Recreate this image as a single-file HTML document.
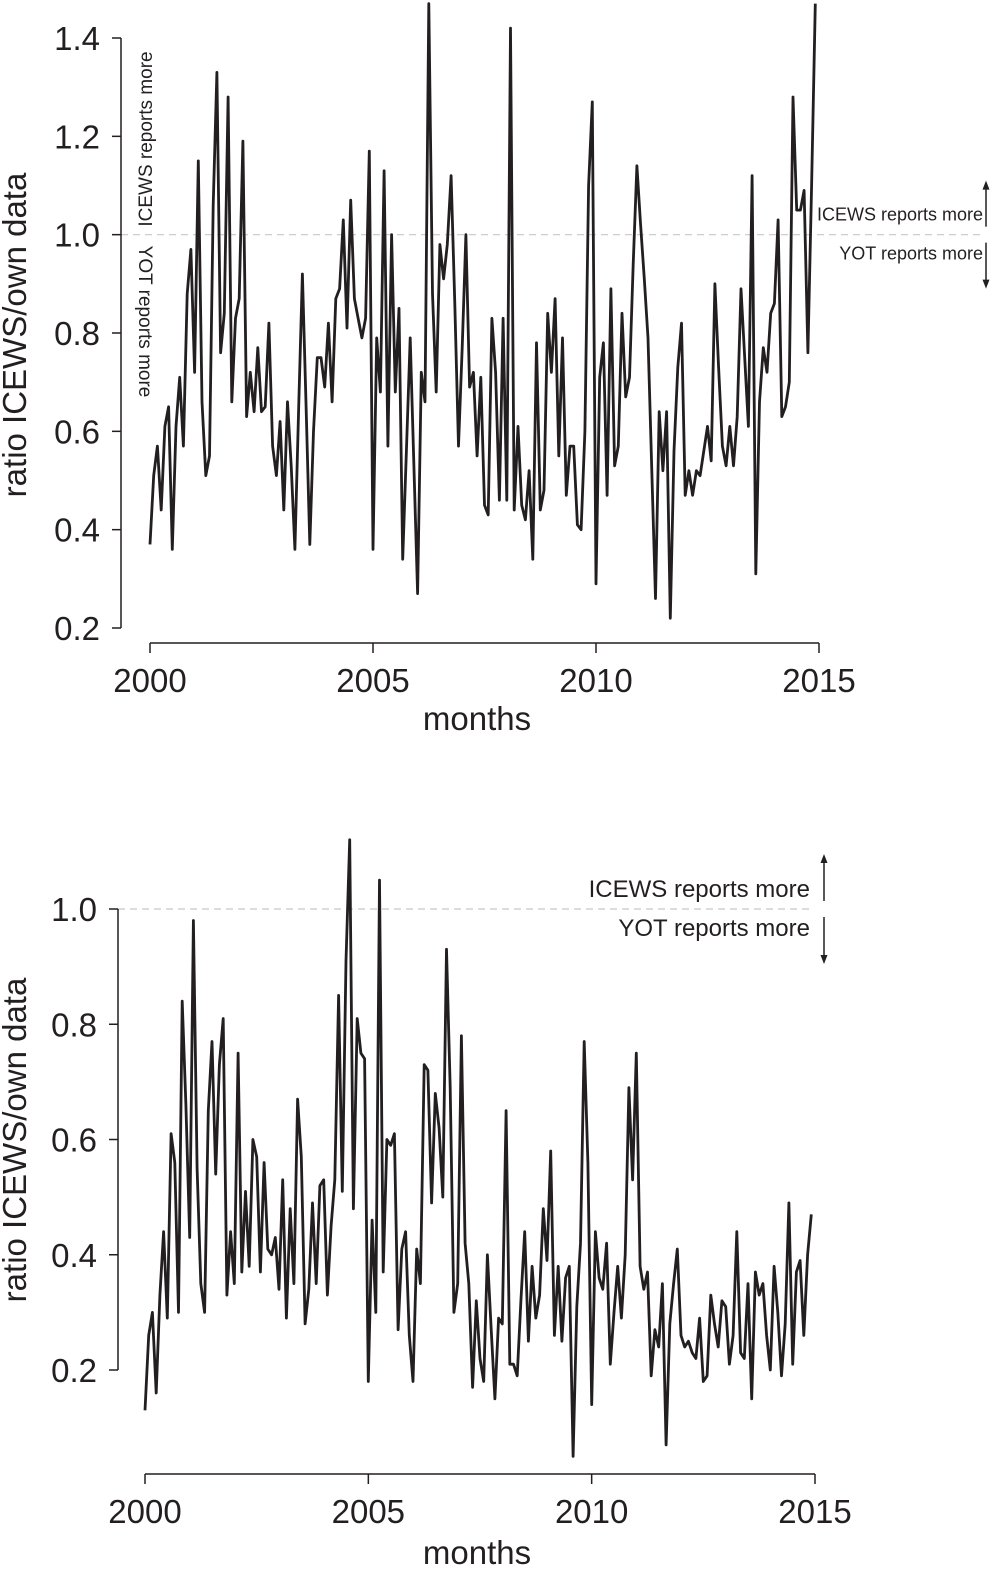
<!DOCTYPE html>
<html><head><meta charset="utf-8"><style>
html,body{margin:0;padding:0;background:#fff;}
svg{display:block;font-family:"Liberation Sans",Arial,sans-serif;}
</style></head><body>
<svg id="chart" width="994" height="1573" viewBox="0 0 994 1573" xmlns="http://www.w3.org/2000/svg">
<g id="top"></g>
<g id="bottom"></g>
</svg>
<script>
const xTickLabels = ["2000","2005","2010","2015"];
const xTickYears = [2000,2005,2010,2015];
const topYTicks = [0.2,0.4,0.6,0.8,1.0,1.2,1.4];
const bottomYTicks = [0.2,0.4,0.6,0.8,1.0];
const topValues = [0.37,0.51,0.57,0.44,0.61,0.65,0.36,0.61,0.71,0.57,0.88,0.97,0.72,1.15,0.66,0.51,0.55,1.06,1.33,0.76,0.84,1.28,0.66,0.83,0.87,1.19,0.63,0.72,0.64,0.77,0.64,0.65,0.82,0.57,0.51,0.62,0.44,0.66,0.53,0.36,0.65,0.92,0.65,0.37,0.60,0.75,
0.75,0.69,0.82,0.66,0.87,0.89,1.03,0.81,1.07,0.87,0.83,0.79,0.83,1.17,0.36,0.79,0.68,1.13,0.57,1.0,0.68,0.85,0.34,0.56,0.79,0.53,0.27,0.72,0.66,1.47,0.88,0.68,0.98,0.91,0.98,1.12,0.86,0.57,0.77,1.0,0.69,0.72,0.55,0.71,0.45,
0.43,0.83,0.72,0.46,0.83,0.46,1.42,0.44,0.61,0.45,0.42,0.52,0.34,0.78,0.44,0.48,0.84,0.72,0.87,0.55,0.79,0.47,0.57,0.57,0.41,0.40,0.6,1.10,1.27,0.29,0.71,0.78,0.47,0.89,0.53,0.57,0.84,0.67,0.71,0.94,1.14,1.02,0.91,0.79,0.52,0.26,
0.64,0.52,0.64,0.22,0.56,0.73,0.82,0.47,0.52,0.47,0.52,0.51,0.56,0.61,0.54,0.90,0.73,0.57,0.53,0.61,0.53,0.63,0.89,0.75,0.61,1.12,0.31,0.66,0.77,0.72,0.84,0.86,1.03,0.63,0.65,0.70,1.28,1.05,1.05,1.09,0.76,1.10,1.47];
const bottomValues = [0.13,0.26,0.30,0.16,0.33,0.44,0.29,0.61,0.56,0.30,0.84,0.66,0.43,0.98,0.55,0.35,0.30,0.65,0.77,0.54,0.73,0.81,0.33,0.44,0.35,0.75,0.37,0.51,0.38,0.60,0.57,0.37,0.56,0.41,0.40,0.43,0.34,0.53,0.29,0.48,0.35,0.67,0.57,0.28,0.34,0.49,0.35,
0.52,0.53,0.33,0.45,0.53,0.85,0.51,0.91,1.12,0.48,0.81,0.75,0.74,0.18,0.46,0.30,1.05,0.37,0.60,0.59,0.61,0.27,0.41,0.44,0.26,0.18,0.41,0.35,0.73,0.72,0.49,0.68,0.62,0.50,0.93,0.69,0.30,0.35,0.78,0.42,0.35,0.17,0.32,
0.22,0.18,0.40,0.27,0.15,0.29,0.28,0.65,0.21,0.21,0.19,0.32,0.44,0.25,0.38,0.29,0.33,0.48,0.39,0.58,0.26,0.38,0.25,0.36,0.38,0.05,0.31,0.42,0.77,0.56,0.14,0.44,0.36,0.34,0.42,0.21,0.30,0.38,0.29,0.40,0.69,0.53,0.75,0.38,0.34,0.37,
0.19,0.27,0.24,0.35,0.07,0.28,0.35,0.41,0.26,0.24,0.25,0.23,0.22,0.29,0.18,0.19,0.33,0.28,0.24,0.32,0.31,0.21,0.26,0.44,0.23,0.22,0.35,0.15,0.37,0.33,0.35,0.26,0.20,0.38,0.30,0.19,0.28,0.49,0.21,0.37,0.39,0.26,0.40,0.47];

const NS="http://www.w3.org/2000/svg";
function mk(parent,tag,attrs,text){const e=document.createElementNS(NS,tag);for(const k in attrs)e.setAttribute(k,attrs[k]);if(text!==undefined)e.textContent=text;parent.appendChild(e);return e;}

function drawChart(g,cfg,values,yTicks){
  const xs=y=>cfg.x0+(y-2000)/15*(cfg.x1-cfg.x0);
  const xm=m=>cfg.x0+m/12*(cfg.x1-cfg.x0)/15;
  const ys=v=>cfg.yb-(v-cfg.vb)/(cfg.vt-cfg.vb)*(cfg.yb-cfg.yt);
  const d=mk(g,'line',{x1:cfg.ax,x2:cfg.dashEnd,y1:ys(1),y2:ys(1),stroke:'#c8c8c8','stroke-width':1.2,'stroke-dasharray':'7,5'});
  
  
  const ya=mk(g,'line',{x1:cfg.ax,x2:cfg.ax,y1:ys(yTicks[0]),y2:ys(yTicks[yTicks.length-1]),stroke:'#231f20','stroke-width':1.5});
  
  
  yTicks.forEach(t=>{
    const tk=mk(g,'line',{x1:cfg.ax-9,x2:cfg.ax,y1:ys(t),y2:ys(t),stroke:'#231f20','stroke-width':1.5});
    
    
    const lb=mk(g,'text',{x:cfg.ax-21,y:ys(t)+12,'text-anchor':'end','font-size':33,fill:'#231f20'},t.toFixed(1));
    
    
  });
  const xa=mk(g,'line',{x1:xs(2000),x2:xs(2015),y1:cfg.xAxisY,y2:cfg.xAxisY,stroke:'#231f20','stroke-width':1.5});
  
  
  xTickYears.forEach((yr,i)=>{
    const tk=mk(g,'line',{x1:xs(yr),x2:xs(yr),y1:cfg.xAxisY,y2:cfg.xAxisY+10,stroke:'#231f20','stroke-width':1.5});
    
    
    const lb=mk(g,'text',{x:xs(yr),y:cfg.xAxisY+49,'text-anchor':'middle','font-size':33,fill:'#231f20'},xTickLabels[i]);
    
    
  });
  const xt=mk(g,'text',{x:477,y:cfg.xAxisY+cfg.monthsDy,'text-anchor':'middle','font-size':33,fill:'#231f20'},'months');
  
  
  const yt=mk(g,'text',{x:0,y:0,'text-anchor':'middle','font-size':33,fill:'#231f20',transform:`translate(26,${cfg.yTitleY}) rotate(-90)`},'ratio ICEWS/own data');
  
  
  const pts=values.map((v,i)=>xm(i).toFixed(1)+','+Math.max(ys(v),1).toFixed(1)).join(' ');
  const pl=mk(g,'polyline',{points:pts,fill:'none',stroke:'#231f20','stroke-width':2.8,'stroke-linejoin':'round'});
  
  
  const y1=ys(1);
  const a1=mk(g,'text',{x:cfg.annX,y:y1-cfg.annUp,'text-anchor':'end','font-size':cfg.annFs,fill:'#231f20'},'ICEWS reports more');
  
  
  const a2=mk(g,'text',{x:cfg.annX,y:y1+cfg.annDown,'text-anchor':'end','font-size':cfg.annFs,fill:'#231f20'},'YOT reports more');
  
  
  const ax=cfg.arX, top=y1-cfg.arLen, bot=y1+cfg.arLen;
  const ar1=mk(g,'line',{x1:ax,x2:ax,y1:y1-8,y2:top+6,stroke:'#231f20','stroke-width':1.5});
  
  
  const h1=mk(g,'path',{d:`M${ax-3.5},${top+9} L${ax},${top} L${ax+3.5},${top+9} Z`,fill:'#231f20'});
  
  
  const ar2=mk(g,'line',{x1:ax,x2:ax,y1:y1+8,y2:bot-6,stroke:'#231f20','stroke-width':1.5});
  
  
  const h2=mk(g,'path',{d:`M${ax-3.5},${bot-9} L${ax},${bot} L${ax+3.5},${bot-9} Z`,fill:'#231f20'});
  
  
  return ys;
}

const topG=document.getElementById('top');
const ysTop=drawChart(topG,{x0:150,x1:819,yb:628,yt:38,vb:0.2,vt:1.4,ax:121,dashEnd:984,xAxisY:643,yTitleY:335,monthsDy:87,annX:983,annUp:14,annDown:25,annFs:18,arX:986,arLen:54},topValues,topYTicks);
const r1=mk(topG,'text',{x:0,y:0,'text-anchor':'start','font-size':19,fill:'#231f20',transform:`translate(152,${ysTop(1)-8}) rotate(-90)`},'ICEWS reports more');


const r2=mk(topG,'text',{x:0,y:0,'text-anchor':'start','font-size':19,fill:'#231f20',transform:`translate(139,${ysTop(1)+11}) rotate(90)`},'YOT reports more');



drawChart(document.getElementById('bottom'),{x0:145,x1:815,yb:1370,yt:909,vb:0.2,vt:1.0,ax:118,dashEnd:810,xAxisY:1474,yTitleY:1140,monthsDy:90,annX:810,annUp:12,annDown:27,annFs:24,arX:824,arLen:55},bottomValues,bottomYTicks);
</script>
</body></html>
